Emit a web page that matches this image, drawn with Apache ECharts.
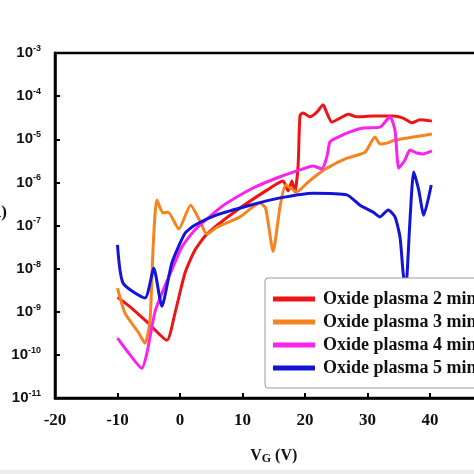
<!DOCTYPE html>
<html>
<head>
<meta charset="utf-8">
<script src="https://cdn.jsdelivr.net/npm/echarts@6/dist/echarts.min.js"></script>
<style>
  html, body { margin: 0; padding: 0; background: #fff; }
  #chart { width: 474px; height: 474px; }
</style>
</head>
<body>
<div id="chart"></div>
<script>
// gate voltage range / ticks
var xTicks = [-20, -10, 0, 10, 20, 30, 40, 50];
var yExpMin = -11, yExpMax = -3;

var names = ['Oxide plasma 2 min', 'Oxide plasma 3 min', 'Oxide plasma 4 min', 'Oxide plasma 5 min'];
var colors = ['#ec1414', '#f5841f', '#fb22ee', '#1414d8'];

// [VG, log10(ID)]
var plasma2 = [[-10,-8.66],[-7.7,-8.92],[-5.1,-9.26],[-2.1,-9.66],[-0.8,-9.03],[0.8,-8.1],[2.4,-7.57],[4.3,-7.2],[8.5,-6.71],[13.9,-6.18],[16.5,-5.97],[17.3,-6.2],[17.9,-5.97],[18.4,-6.22],[18.9,-5.6],[19.2,-4.45],[19.7,-4.39],[20.8,-4.48],[21.9,-4.37],[22.9,-4.2],[23.5,-4.39],[24.3,-4.6],[25.6,-4.51],[26.9,-4.42],[28.3,-4.48],[30.9,-4.46],[34.1,-4.46],[35.7,-4.51],[37.1,-4.62],[38.4,-4.55],[40.3,-4.58]];
var plasma3 = [[-10,-8.45],[-8.8,-9.03],[-6.7,-9.47],[-5.6,-9.73],[-4.8,-9.2],[-4.3,-7.5],[-3.7,-6.41],[-2.7,-6.71],[-1.9,-6.69],[-0.2,-7.08],[1.7,-6.53],[3.2,-6.9],[4.3,-7.2],[5.9,-7.04],[9.6,-6.8],[12.8,-6.48],[13.7,-6.6],[14.9,-7.6],[16,-6.57],[16.9,-6.06],[17.9,-6.15],[18.7,-6.22],[20.3,-6.02],[21.9,-5.83],[23.5,-5.67],[26.7,-5.44],[29.6,-5.3],[31.2,-4.95],[32,-5.11],[33.1,-5.09],[34.4,-5.02],[37.3,-4.95],[40.3,-4.88]];
var plasma4 = [[-10,-9.61],[-8.3,-9.94],[-6.1,-10.31],[-5.3,-9.96],[-4,-9.0],[-2.7,-8.5],[-1.3,-8.03],[0.3,-7.5],[2.4,-7.1],[5.6,-6.69],[7.5,-6.48],[11.7,-6.13],[16,-5.87],[19.2,-5.71],[21.3,-5.62],[22.7,-5.69],[23.5,-5.41],[24,-5.06],[25.3,-4.95],[27.2,-4.83],[29.3,-4.74],[32,-4.72],[33.6,-4.48],[34.4,-4.79],[35,-5.67],[36,-5.48],[36.8,-5.25],[37.9,-5.32],[38.9,-5.34],[40.3,-5.27]];
var plasma5 = [[-10,-7.45],[-9.1,-8.34],[-5.6,-8.68],[-4.2,-7.99],[-2.9,-8.87],[-1.3,-7.87],[0.8,-7.18],[2.4,-6.99],[5.8,-6.76],[11.2,-6.53],[16,-6.36],[21.3,-6.25],[26.7,-6.29],[28.8,-6.53],[30.9,-6.69],[32,-6.8],[33.3,-6.64],[34.4,-6.8],[35.2,-7.27],[35.7,-8.1],[36,-8.4],[36.3,-8.2],[36.8,-6.87],[37.4,-5.76],[38.2,-6.18],[39,-6.76],[40.2,-6.06]];

var chart = echarts.init(document.getElementById('chart'));

function toCurrent(arr) {
  return arr.map(function(p) { return [p[0], Math.pow(10, p[1])]; });
}

var allData = [plasma2, plasma3, plasma4, plasma5];
var series = allData.map(function(d, i) {
  return {
    name: names[i],
    type: 'line',
    data: toCurrent(d),
    smooth: 0.2,
    showSymbol: false,
    lineStyle: { width: 3, color: colors[i] },
    itemStyle: { color: colors[i] },
    z: 2
  };
});

var option = {
  backgroundColor: '#fff',
  animation: false,
  grid: {
    left: 55,
    top: 53,
    width: 437.5,
    bottom: 76,
    outerBoundsMode: 'none',
    containLabel: false,
    show: true,
    borderColor: '#000',
    borderWidth: 2.5
  },
  legend: {
    orient: 'vertical',
    left: 265,
    top: 278,
    data: names,
    icon: 'rect',
    itemWidth: 42,
    itemHeight: 5,
    itemGap: 5,
    padding: [12, 12, 11, 8],
    backgroundColor: '#fff',
    borderColor: '#999',
    borderWidth: 1,
    borderRadius: 3,
    z: 10,
    textStyle: {
      fontFamily: 'Liberation Serif',
      fontWeight: 'bold',
      fontSize: 18,
      color: '#111',
      padding: [0, 0, 0, 3]
    }
  },
  xAxis: {
    type: 'value',
    min: xTicks[0],
    max: xTicks[xTicks.length - 1],
    interval: 10,
    splitLine: { show: false },
    axisLine: { onZero: false, lineStyle: { color: '#000', width: 2.5 } },
    axisTick: { inside: true, length: 5, lineStyle: { color: '#000', width: 2 } },
    axisLabel: {
      margin: 14,
      color: '#111',
      fontFamily: 'Liberation Serif',
      fontWeight: 'bold',
      fontSize: 17
    },
    name: '{v|V}{g|G}{v| (V)}',
    nameLocation: 'middle',
    nameGap: 49,
    nameTextStyle: {
      rich: {
        v: { fontFamily: 'Liberation Serif', fontWeight: 'bold', fontSize: 16, color: '#111' },
        g: { fontFamily: 'Liberation Serif', fontWeight: 'bold', fontSize: 12, color: '#111', verticalAlign: 'bottom', padding: [6, 0, 0, 0] }
      }
    }
  },
  yAxis: {
    type: 'log',
    logBase: 10,
    min: Math.pow(10, yExpMin),
    max: Math.pow(10, yExpMax),
    splitLine: { show: false },
    axisLine: { onZero: false, lineStyle: { color: '#000', width: 2.5 } },
    axisTick: { inside: true, length: 5, lineStyle: { color: '#000', width: 2 } },
    axisLabel: {
      margin: 14,
      formatter: function(v) {
        var e = Math.round(Math.log10(v));
        return '{b|10}{s|' + e + '}';
      },
      rich: {
        b: { fontFamily: 'Liberation Sans', fontWeight: 'bold', fontSize: 15, color: '#111', lineHeight: 18 },
        s: { fontFamily: 'Liberation Sans', fontWeight: 'bold', fontSize: 9, color: '#111', verticalAlign: 'top', padding: [0, 0, 8, 0] }
      }
    }
  },
  graphic: [{
    type: 'text',
    x: 7,
    y: 213,
    style: {
      text: '{a|I}{b|D}{a| (A)}',
      align: 'right',
      verticalAlign: 'middle',
      rich: {
        a: { fontFamily: 'Liberation Serif', fontWeight: 'bold', fontSize: 17, fill: '#111' },
        b: { fontFamily: 'Liberation Serif', fontWeight: 'bold', fontSize: 12, fill: '#111' }
      }
    }
  }, {
    // light strip along the bottom edge of the scan
    type: 'rect',
    shape: { x: 0, y: 470, width: 474, height: 4 },
    style: { fill: '#ececec' }
  }],
  series: series
};

chart.setOption(option);
</script>
</body>
</html>
